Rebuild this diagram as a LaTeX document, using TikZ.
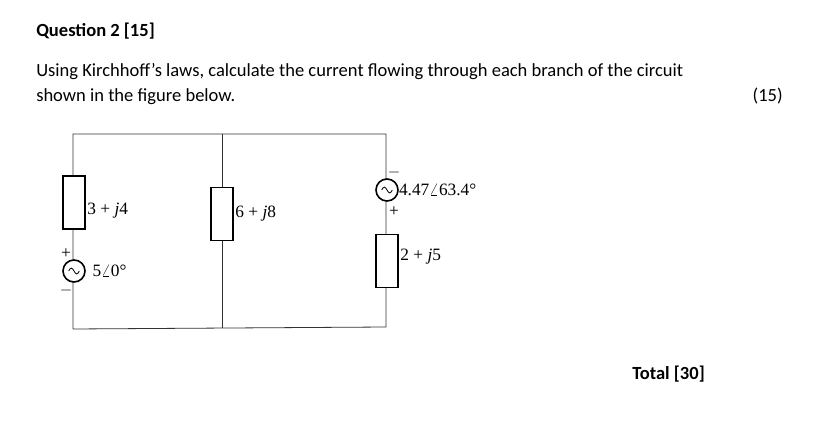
\documentclass[tikz,border=0pt]{standalone}
\usepackage{fontspec}
\setmainfont{Carlito}
\newfontfamily\tnr{Liberation Serif}
\begin{document}
\begin{tikzpicture}[x=0.75pt,y=-0.75pt,
  wire/.style={line width=0.6pt,draw=black!80},
  res/.style={draw,line width=1.2pt,fill=white,minimum width=16.5pt,minimum height=40pt,inner sep=0pt},
  src/.style={draw,circle,line width=1.2pt,fill=white,minimum size=16.5pt,inner sep=0pt},
  clab/.style={font=\tnr\fontsize{13}{15}\selectfont,inner sep=1pt},
  pm/.style={font=\tnr\fontsize{13}{14}\selectfont,inner sep=0pt},
  txt/.style={font=\fontsize{13.9}{16}\selectfont,anchor=base west,inner sep=0pt}]
\useasboundingbox (0,0) rectangle (820,438);
\node[txt,font=\bfseries\fontsize{13.9}{16}\selectfont] (q) at (36,37) {Question 2 [15]};
\node[txt] (l1) at (36,77) {Using Kirchhoff’s laws, calculate the current flowing through each branch of the circuit};
\node[txt] (l2) at (36,102) {shown in the figure below.};
\node[txt,anchor=base east] (m) at (783,102) {(15)};
\node[txt,font=\bfseries\fontsize{13.9}{16}\selectfont] (t) at (632,379) {Total [30]};
\coordinate (tl) at (73,134); \coordinate (tm) at (222,134); \coordinate (tr) at (386,134);
\coordinate (bl) at (73,329); \coordinate (bm) at (222,328); \coordinate (br) at (386,327);
\draw[wire] (bl) -- (tl) -- (tr) -- (br) -- (bl);
\draw[wire] (tm) -- (bm);
\node[res] (r1) at (74,202.5) {};
\node[res] (r2) at (222,214) {};
\node[res] (r3) at (387,261) {};
\node[src] (s1) at (74,271) {};
\node[src] (s2) at (387,190) {};
\foreach \s in {s1,s2}{
  \draw[line width=0.6pt] ([xshift=-4pt]\s.center) sin ([xshift=-2pt,yshift=2.2pt]\s.center) cos (\s.center) sin ([xshift=2pt,yshift=-2.2pt]\s.center) cos ([xshift=4pt]\s.center);}
\node[clab,anchor=west] at ([yshift=-6pt]r1.east) {3 + \textit{j}4};
\node[clab,anchor=west] at (r2.east) {6 + \textit{j}8};
\node[clab,anchor=west] at ([yshift=3pt]r3.east) {2 + \textit{j}5};
\node[clab,anchor=west] at ([xshift=4pt]s1.east) {5$\angle$0°};
\node[clab,anchor=west,inner sep=0pt] at (s2.east) {4.47$\angle$63.4°};
\node[pm] at (66,254) {+};
\node[pm] at (66,290) {$-$};
\node[pm] at (394,173) {$-$};
\node[pm] at (394,212) {+};
\end{tikzpicture}
\end{document}
